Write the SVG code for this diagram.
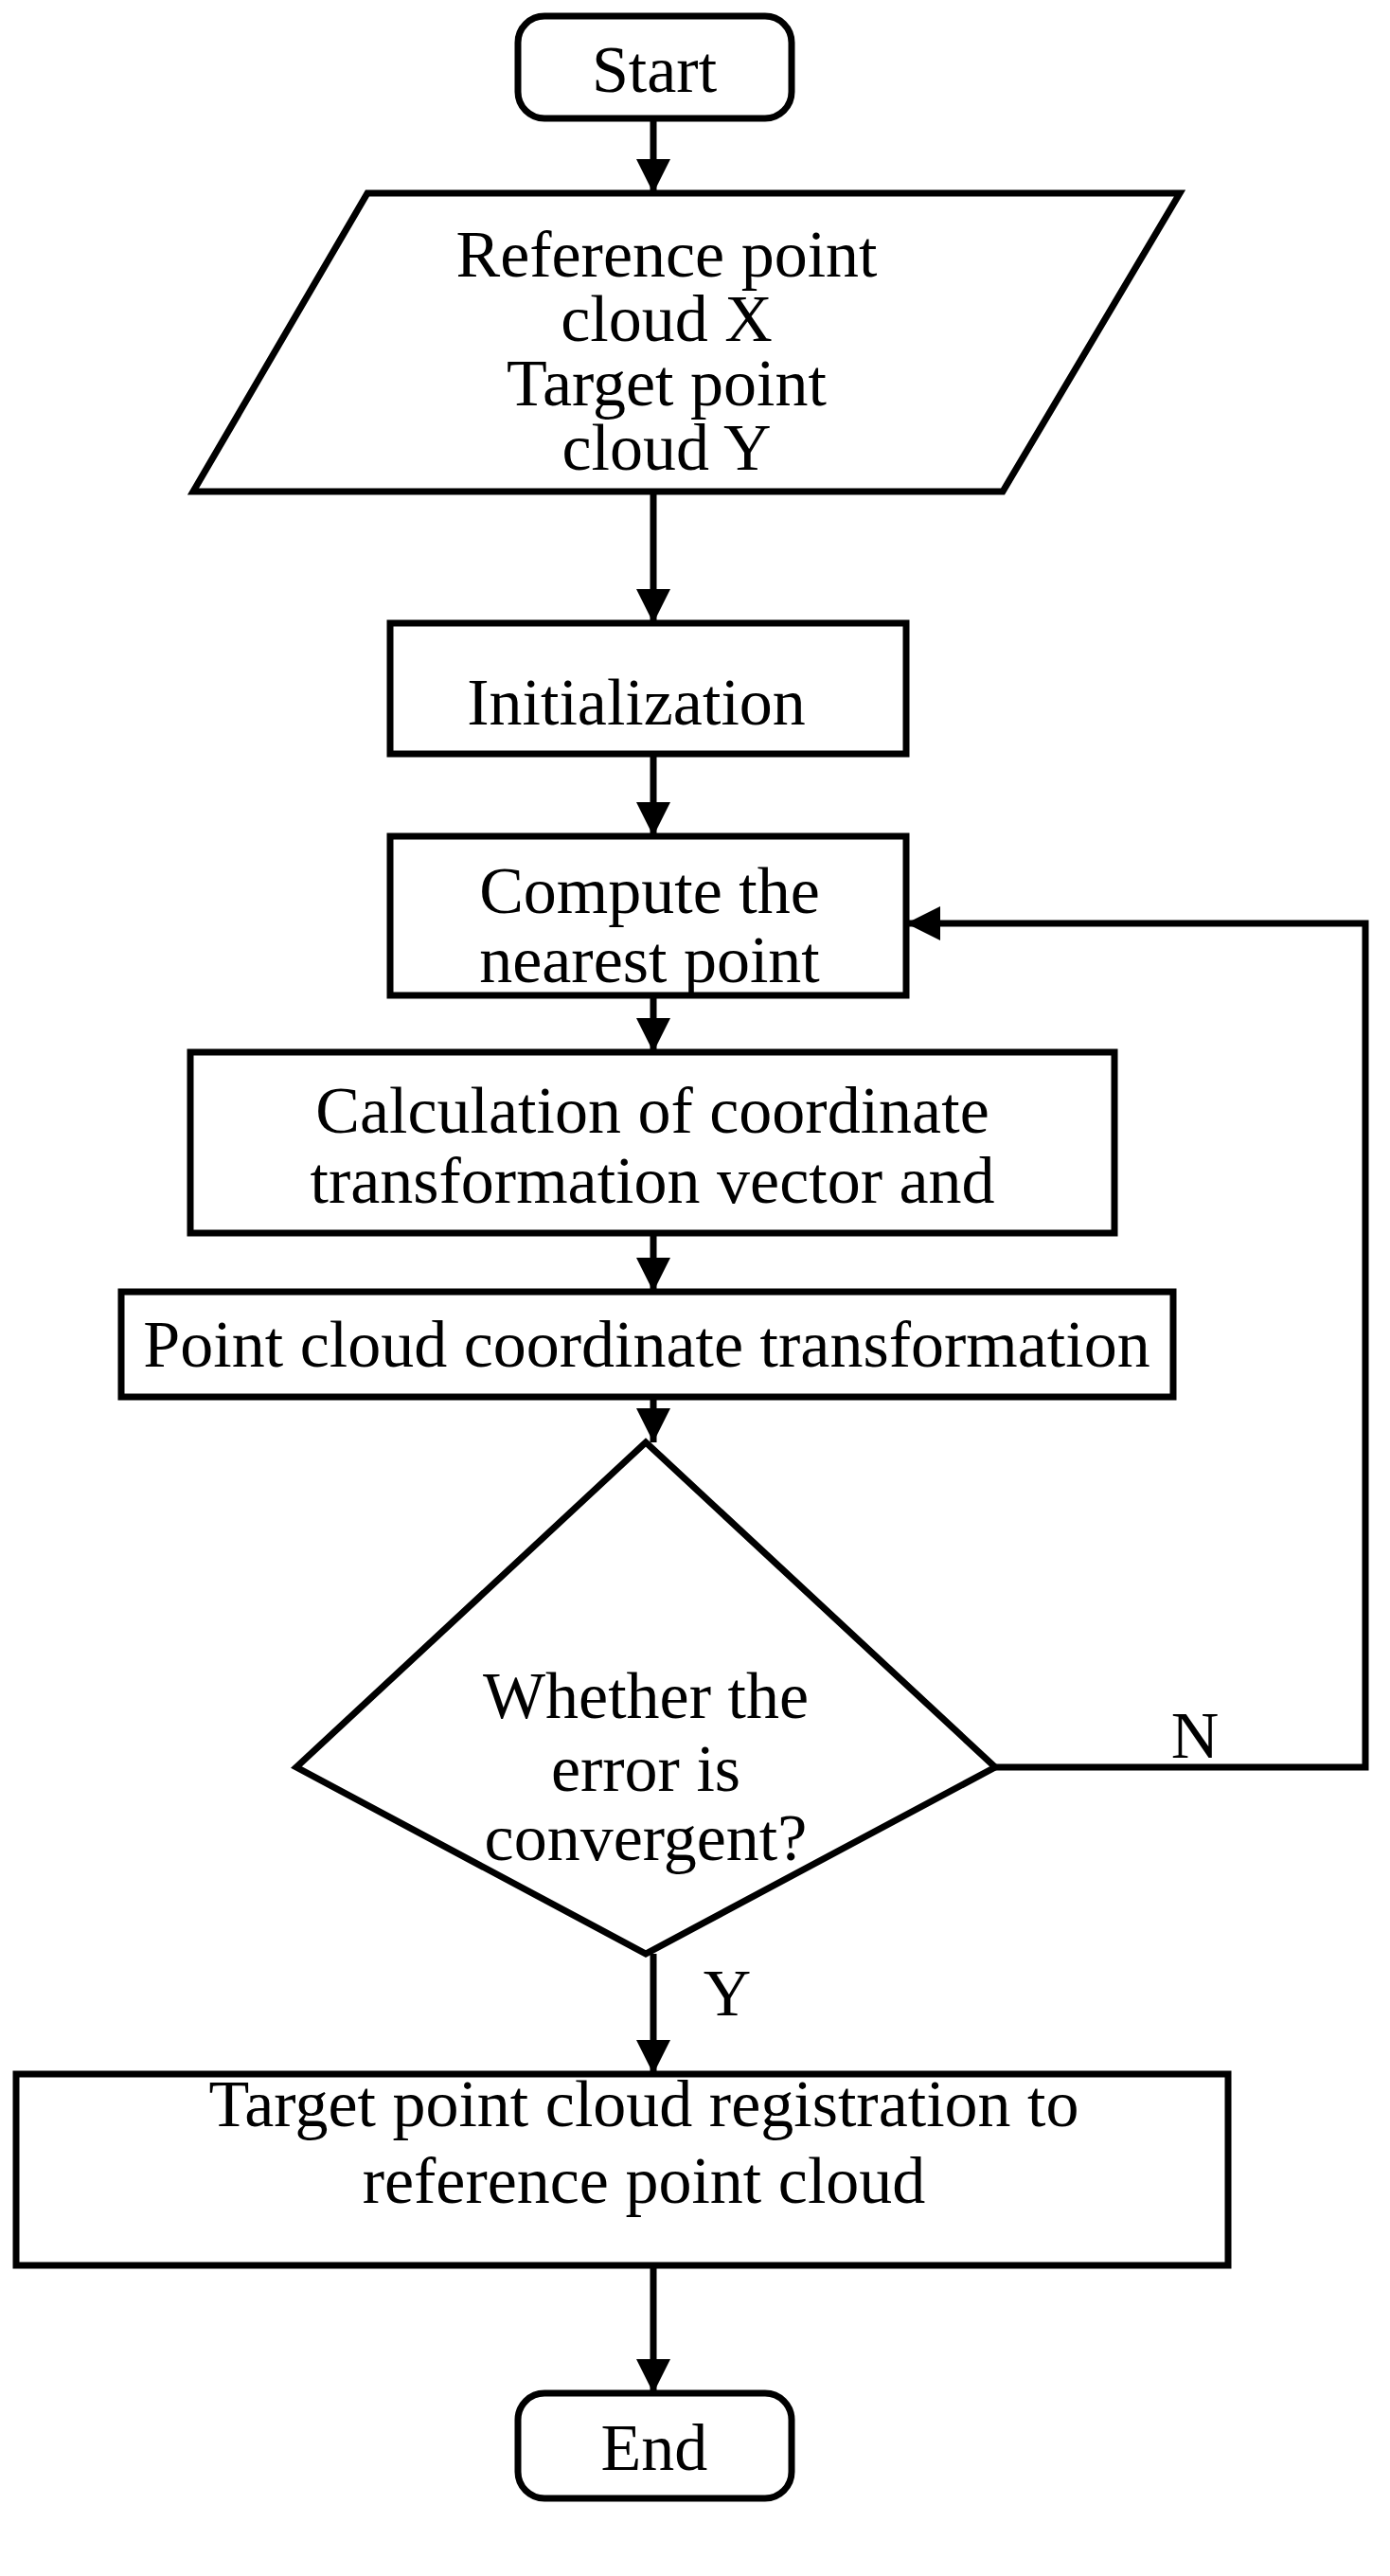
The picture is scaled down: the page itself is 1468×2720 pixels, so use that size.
<svg xmlns="http://www.w3.org/2000/svg" width="1468" height="2720" viewBox="0 0 1468 2720">
<style>
.s{fill:#fff;stroke:#000;stroke-width:7}
.t{font-family:"Liberation Serif",serif;font-size:70px;text-anchor:middle;dominant-baseline:central;fill:#000}
.c{fill:none;stroke:#000;stroke-width:7}
</style>
<defs><marker id="b" viewBox="0 0 10 10" refX="10" refY="5" markerWidth="36" markerHeight="36" markerUnits="userSpaceOnUse" orient="auto"><path d="M0,0L10,5L0,10z"/></marker></defs>
<rect width="1468" height="2720" fill="#fff"/>
<g id="connectors">
<path class="c" d="M690,125V204" marker-end="url(#b)"/>
<path class="c" d="M690,519V658" marker-end="url(#b)"/>
<path class="c" d="M690,796V883" marker-end="url(#b)"/>
<path class="c" d="M690,1051V1111" marker-end="url(#b)"/>
<path class="c" d="M690,1302V1364" marker-end="url(#b)"/>
<path class="c" d="M690,1475V1523" marker-end="url(#b)"/>
<path class="c" d="M690,2063V2190" marker-end="url(#b)"/>
<path class="c" d="M690,2392V2527" marker-end="url(#b)"/>
<path class="c" d="M1051,1866H1442V975H957" marker-end="url(#b)"/>
<text class="t" x="1262" y="1832">N</text>
<text class="t" x="768" y="2104">Y</text>
</g>
<g id="start"><rect class="s" x="547" y="17" width="289" height="108" rx="28"/><text class="t" x="691" y="73">Start</text></g>
<g id="input"><path class="s" d="M388,204H1246L1059,519H204Z"/>
<text class="t" x="704" y="268">Reference point</text><text class="t" x="704" y="336">cloud X</text><text class="t" x="704" y="404">Target point</text><text class="t" x="704" y="472">cloud Y</text></g>
<g id="init"><rect class="s" x="412" y="658" width="545" height="138"/><text class="t" x="672" y="741">Initialization</text></g>
<g id="compute"><rect class="s" x="412" y="883" width="545" height="168"/><text class="t" x="686" y="940">Compute the</text><text class="t" x="686" y="1013">nearest point</text></g>
<g id="calc"><rect class="s" x="201" y="1111" width="976" height="191"/><text class="t" x="689" y="1172">Calculation of coordinate</text><text class="t" x="689" y="1246">transformation vector and</text></g>
<g id="transform"><rect class="s" x="128" y="1364" width="1111" height="111"/><text class="t" x="683" y="1419">Point cloud coordinate transformation</text></g>
<g id="decision"><path class="s" d="M682,1523L1051,1866L682,2063L313,1866Z"/>
<text class="t" x="682" y="1790">Whether the</text><text class="t" x="682" y="1867">error is</text><text class="t" x="682" y="1940">convergent?</text></g>
<g id="result"><rect class="s" x="17" y="2190" width="1280" height="202"/><text class="t" x="680" y="2221">Target point cloud registration to</text><text class="t" x="680" y="2302">reference point cloud</text></g>
<g id="end"><rect class="s" x="547" y="2527" width="289" height="111" rx="28"/><text class="t" x="691" y="2584">End</text></g>
</svg>
